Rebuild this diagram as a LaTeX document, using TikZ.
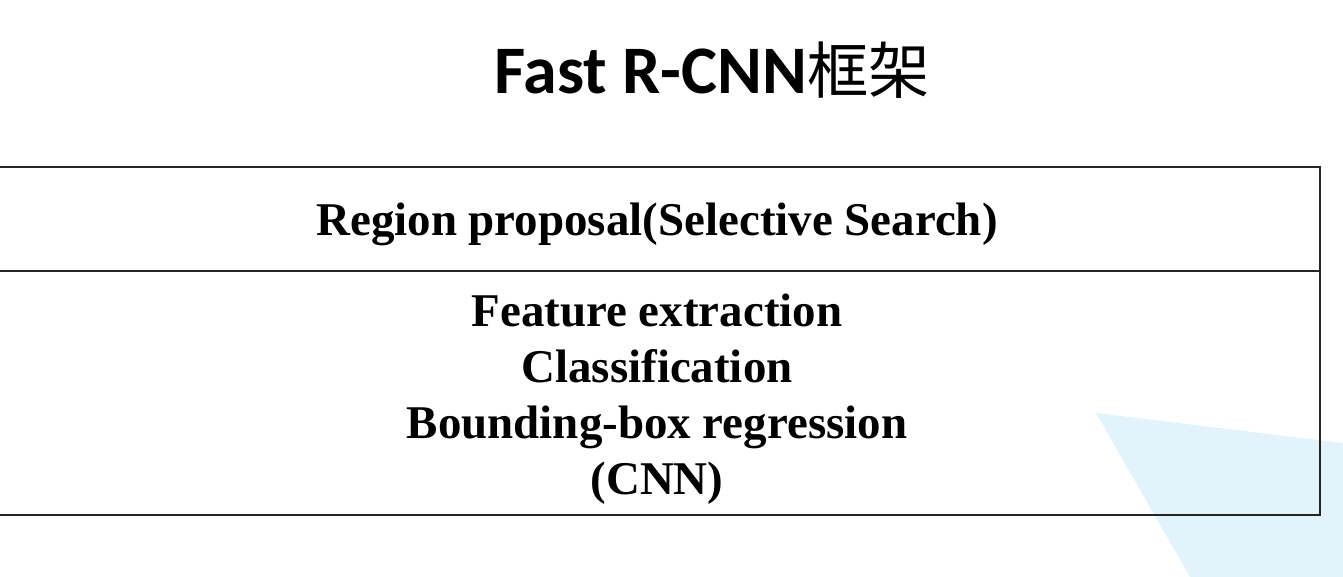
\documentclass[tikz,border=0pt]{standalone}
\usepackage{fontspec}
\setmainfont{Liberation Serif}
\newfontfamily\titlefont{Carlito}
\newfontfamily\cjkfont{Noto Sans CJK SC}
\usetikzlibrary{positioning}
\definecolor{paleblue}{HTML}{E3F3FC}
\tikzstyle{headline} = [font=\titlefont\bfseries\fontsize{51}{51}\selectfont, inner sep=0pt]
\tikzstyle{cell} = [font=\bfseries\fontsize{35.2}{42}\selectfont, align=center, inner sep=0pt]
\tikzstyle{rule} = [line width=1.8pt, draw=black!85]

\begin{document}
\begin{tikzpicture}[x=0.75pt,y=-0.75pt]
\useasboundingbox (0,0) rectangle (1343,577);

% light corner shape
\fill[paleblue] (1096,413) -- (1343,443) -- (1343,577) -- (1190,577) -- cycle;

\coordinate (tl) at (-5,167);
\coordinate (tr) at (1320,167);
\coordinate (ml) at (-5,271);
\coordinate (mr) at (1320,271);
\coordinate (bl) at (-5,515);
\coordinate (br) at (1320,515);

\draw [rule] (tl) -- (tr) -- (br) -- (bl);
\draw [rule] (ml) -- (mr);

\node (head) [headline] at (712,70) {Fast R-CNN{\cjkfont\mdseries\fontsize{46}{46}\selectfont 框架}};
\node (region) [cell] at (657,224) {Region proposal(Selective Search)};
\node (cnn) [cell] at (657,399) {Feature extraction\\Classification\\Bounding-box regression\\(CNN)};

\end{tikzpicture}
\end{document}
